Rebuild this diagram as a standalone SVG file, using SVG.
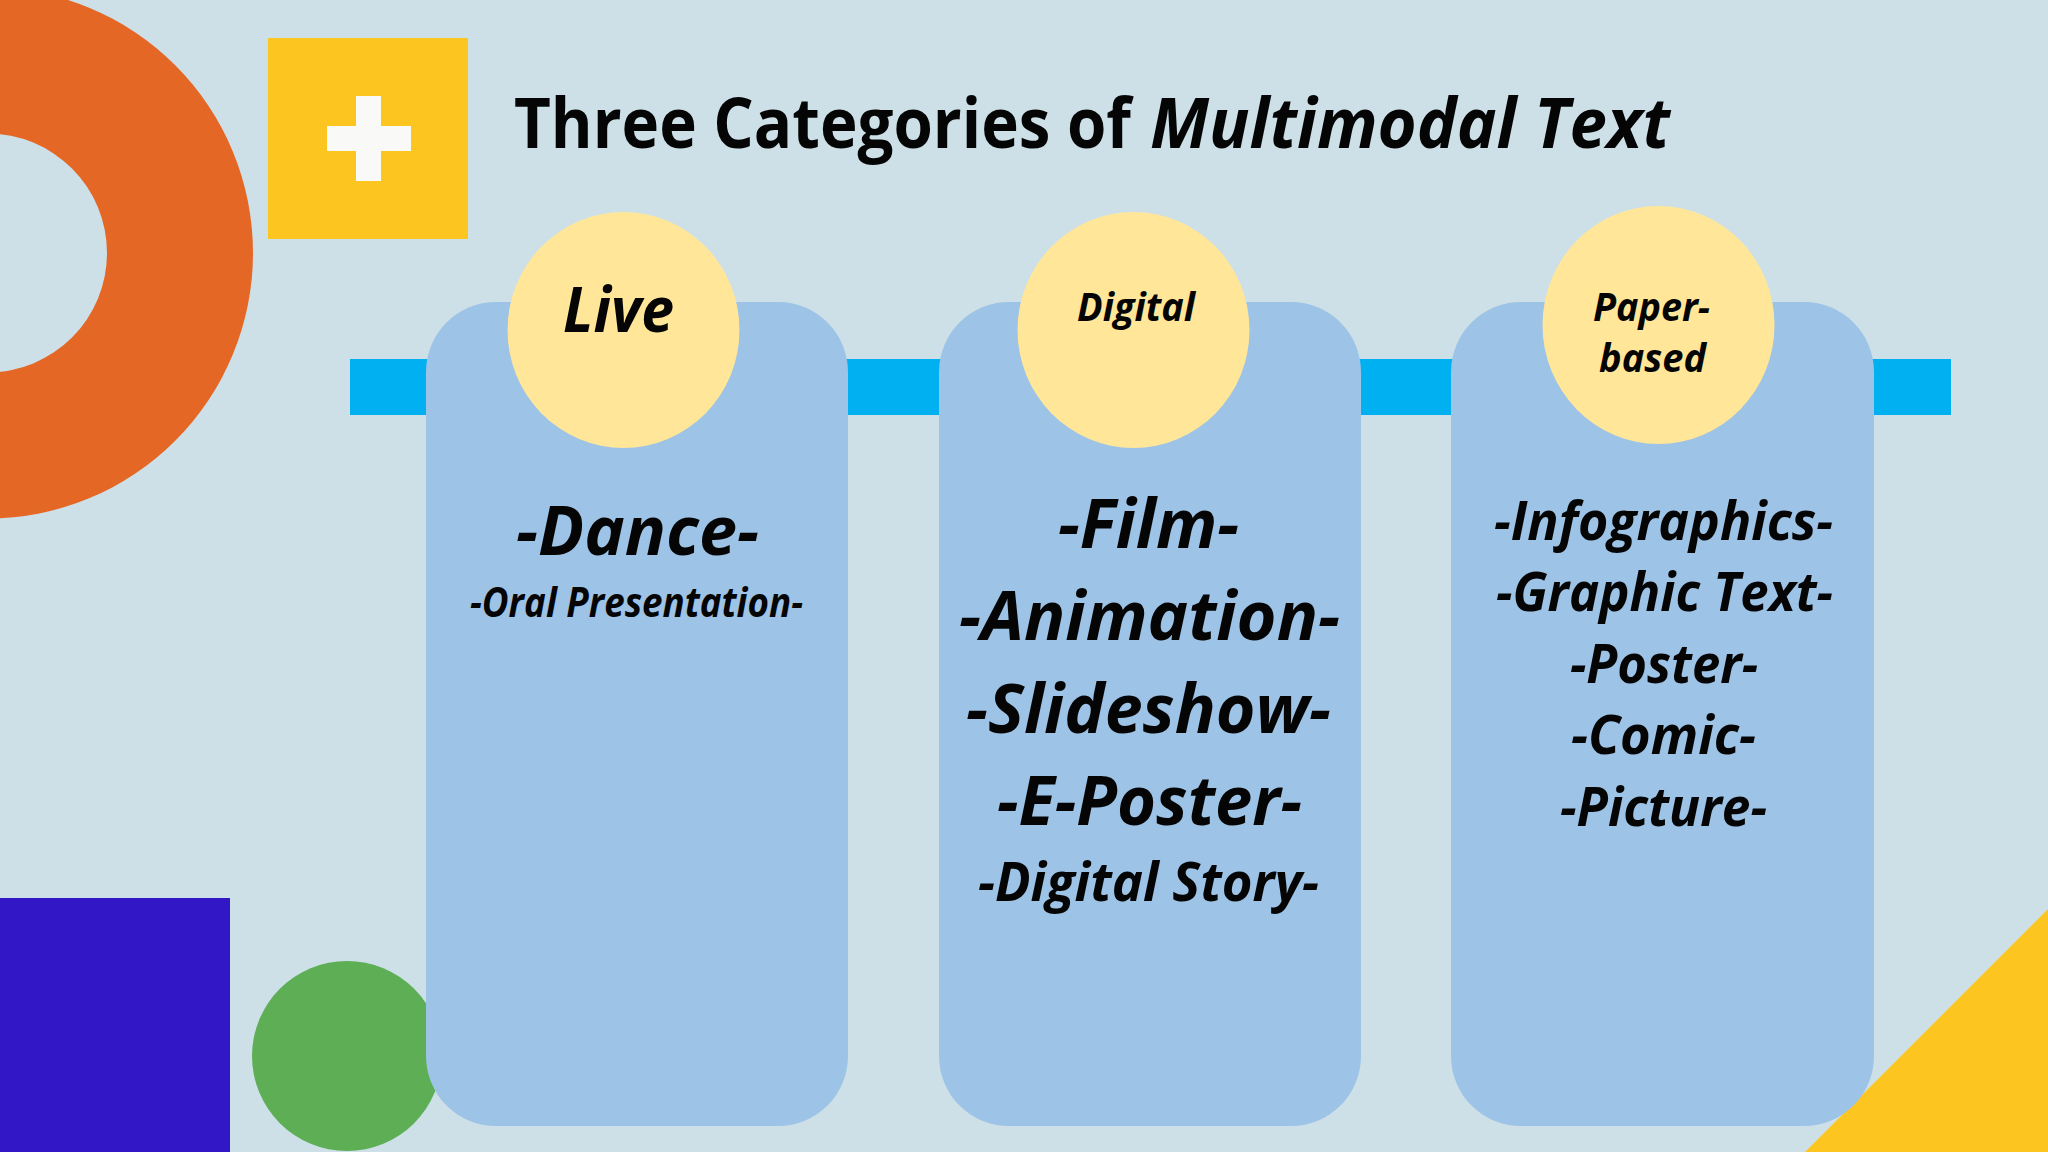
<svg xmlns="http://www.w3.org/2000/svg" width="2048" height="1152" viewBox="0 0 2048 1152">
<style>
text{font-family:"Open Sans","Noto Sans","Liberation Sans",sans-serif;font-weight:700;font-style:italic;fill:#050505}
.card{fill:#9DC3E6}.head{fill:#FFE699}
.xl{font-size:68px}.l{font-size:54px}.s{font-size:41px}.h{font-size:39px}
.title{font-size:70px}
</style>
<rect width="2048" height="1152" fill="#CDE0E8"/>
<g id="decor">
<path d="M-12.5 -12.5A265.5 265.5 0 1 1 -12.5 518.5A265.5 265.5 0 1 1 -12.5 -12.5ZM-12.5 133.5A119.5 119.5 0 1 0 -12.5 372.5A119.5 119.5 0 1 0 -12.5 133.5Z" fill="#E46726" fill-rule="evenodd"/>
<rect x="268" y="38" width="200" height="201" fill="#FDC520"/>
<path d="M356 96H381V126H411V151H381V181H356V151H327V126H356Z" fill="#F9F9F7"/>
<rect x="0" y="898" width="230" height="254" fill="#3117C6"/>
<circle cx="347" cy="1056" r="95" fill="#5DAE55"/>
<polygon points="2048,909 1805,1152 2048,1152" fill="#FDC520"/>
</g>
<g id="connectors"><rect x="350" y="359" width="1601" height="56" fill="#00B0F0"/></g>
<g id="title">
<text class="title" x="514" y="148" textLength="617" lengthAdjust="spacingAndGlyphs" style="font-style:normal">Three Categories of</text>
<text class="title" x="1150" y="148" textLength="520" lengthAdjust="spacingAndGlyphs">Multimodal Text</text>
</g>
<g id="live">
<rect class="card" x="426" y="302" width="422" height="824" rx="70"/>
<ellipse class="head" cx="623.5" cy="330" rx="116" ry="118"/>
<text style="font-size:62px" x="563" y="332" textLength="111" lengthAdjust="spacingAndGlyphs">Live</text>
<text class="xl" x="516" y="555" textLength="243" lengthAdjust="spacingAndGlyphs">-Dance-</text>
<text class="s" x="470" y="617" textLength="333" lengthAdjust="spacingAndGlyphs">-Oral Presentation-</text>
</g>
<g id="digital">
<rect class="card" x="939" y="302" width="422" height="824" rx="70"/>
<ellipse class="head" cx="1133.5" cy="330" rx="116" ry="118"/>
<text class="h" x="1077" y="321" textLength="118" lengthAdjust="spacingAndGlyphs">Digital</text>
<text class="xl" x="1058" y="548" textLength="181" lengthAdjust="spacingAndGlyphs">-Film-</text>
<text class="xl" x="959" y="640" textLength="381" lengthAdjust="spacingAndGlyphs">-Animation-</text>
<text class="xl" x="966" y="733" textLength="365" lengthAdjust="spacingAndGlyphs">-Slideshow-</text>
<text class="xl" x="997" y="825" textLength="305" lengthAdjust="spacingAndGlyphs">-E-Poster-</text>
<text class="l" x="978" y="901" textLength="341" lengthAdjust="spacingAndGlyphs">-Digital Story-</text>
</g>
<g id="paper">
<rect class="card" x="1451" y="302" width="423" height="824" rx="70"/>
<ellipse class="head" cx="1658.5" cy="325" rx="116" ry="119"/>
<text class="h" x="1593" y="321" textLength="117" lengthAdjust="spacingAndGlyphs">Paper-</text>
<text class="h" x="1599" y="372" textLength="107" lengthAdjust="spacingAndGlyphs">based</text>
<text class="l" x="1494" y="540" textLength="339" lengthAdjust="spacingAndGlyphs">-Infographics-</text>
<text class="l" x="1496" y="611" textLength="337" lengthAdjust="spacingAndGlyphs">-Graphic Text-</text>
<text class="l" x="1570" y="683" textLength="188" lengthAdjust="spacingAndGlyphs">-Poster-</text>
<text class="l" x="1571" y="754" textLength="185" lengthAdjust="spacingAndGlyphs">-Comic-</text>
<text class="l" x="1560" y="826" textLength="207" lengthAdjust="spacingAndGlyphs">-Picture-</text>
</g>
</svg>
